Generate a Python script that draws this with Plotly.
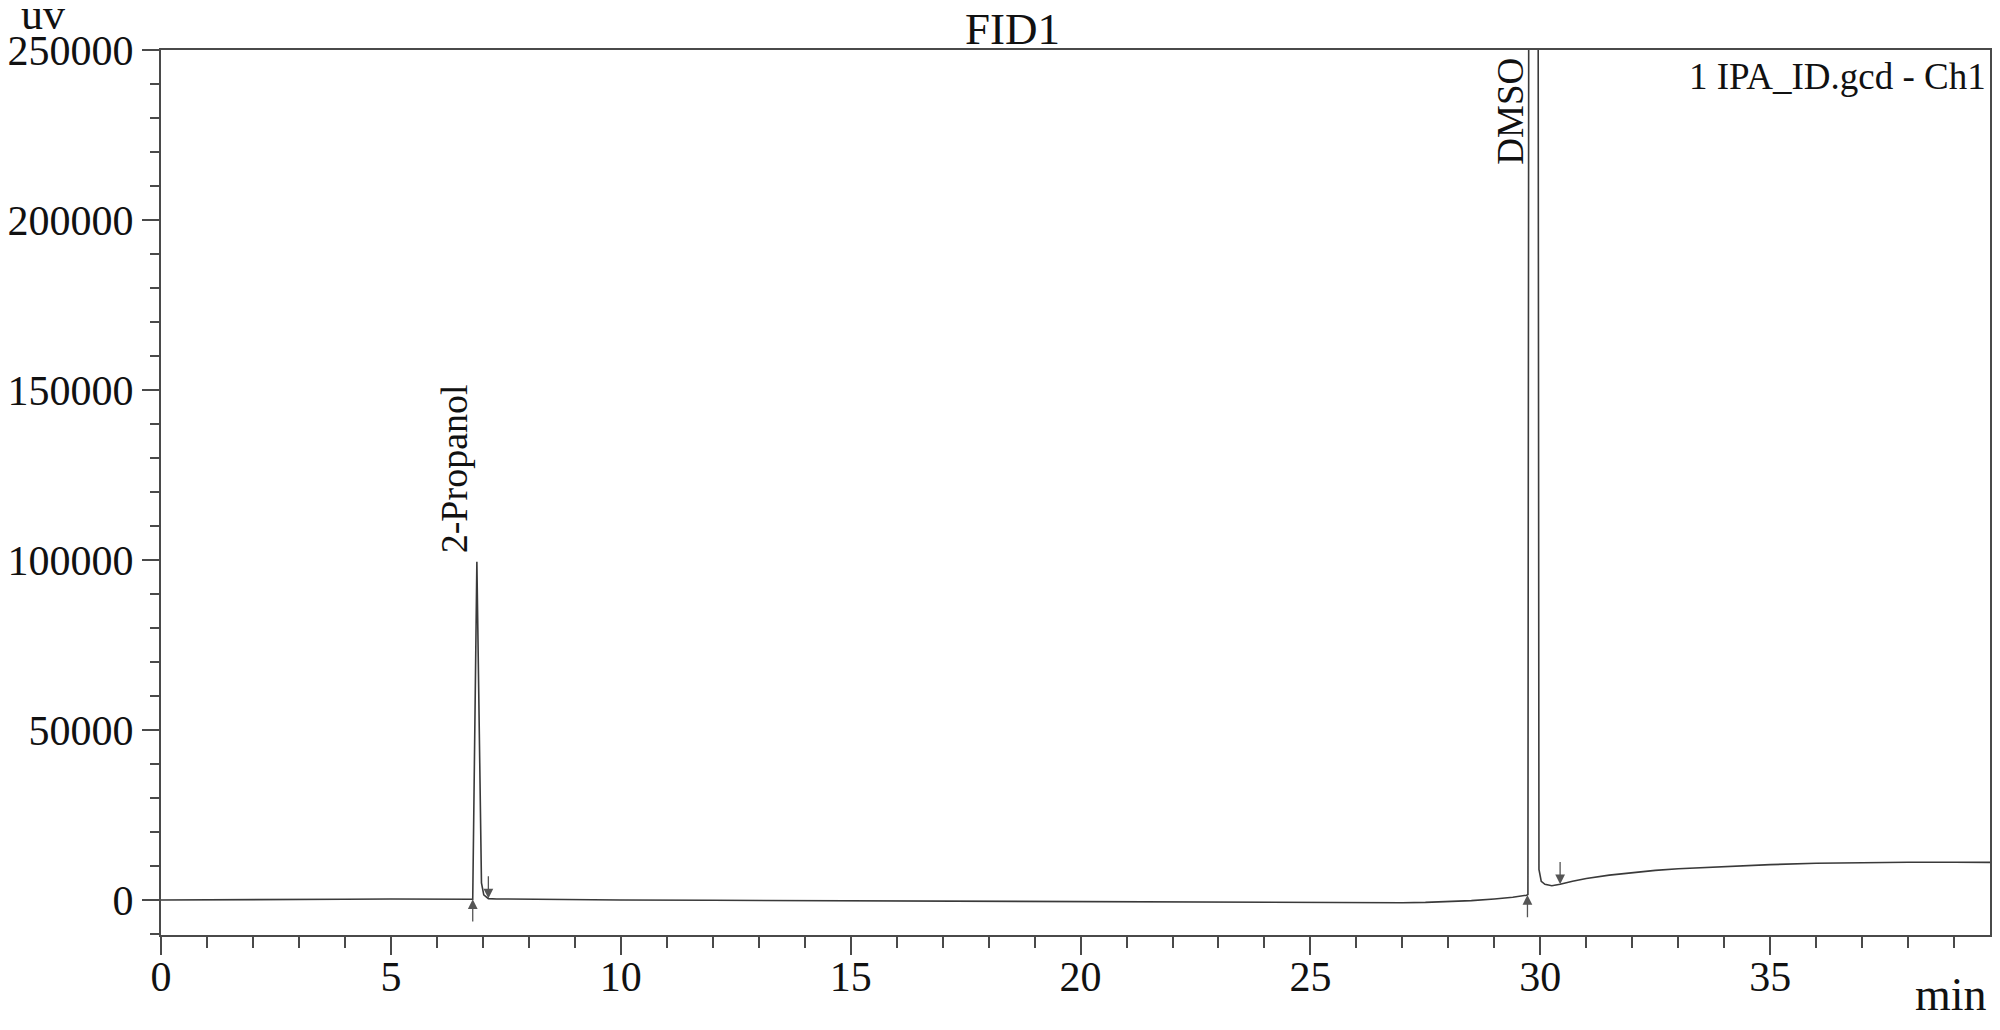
import plotly.graph_objects as go

# FID1 chromatogram, 1 IPA_ID.gcd - Ch1
time_min = [0, 1, 2, 3, 4, 5, 6, 6.5, 6.75, 6.78, 6.87, 6.97, 7.02, 7.12, 7.3,
            8, 9, 10, 12, 14, 15, 17, 18, 20, 22, 24, 25, 26, 27, 27.5, 28,
            28.5, 29, 29.4, 29.7, 29.73, 29.75, 29.85, 29.95, 29.97, 30.02,
            30.1, 30.25, 30.43, 30.7, 31, 31.5, 32, 32.5, 33, 34, 35, 36, 37,
            38, 39, 39.85]
signal_uv = [0, 0, 100, 0, 200, 300, 200, 100, 100, 200, 99500, 5000, 1500, 400,
             300, 200, 100, 0, -100, -200, -300, -400, -500, -600, -700, -800,
             -900, -900, -800, -700, -500, -200, 300, 800, 1400, 1600, 300000,
             1800000, 300000, 9000, 5500, 4600, 4200, 4600, 5500, 6300, 7300,
             8100, 8700, 9200, 9900, 10400, 10800, 11000, 11100, 11100, 11050]

peak_names = ["2-Propanol", "DMSO"]
peak_start = [6.78, 29.72]
peak_start_uv = [200, 1500]
peak_end = [7.12, 30.43]
peak_end_uv = [400, 4600]

line_grey = "#4a4a4a"
serif = "Liberation Serif, Times New Roman, serif"

fig = go.Figure()
fig.add_trace(go.Scatter(
    x=time_min, y=signal_uv, mode="lines",
    line=dict(color="#3a3a3a", width=1.6),
    showlegend=False, hoverinfo="skip",
))

annotations = []
# peak start / end markers
for xs, ys in zip(peak_start, peak_start_uv):
    annotations.append(dict(x=xs, y=ys, ax=xs, ay=ys - 7000, xref="x", yref="y",
                            axref="x", ayref="y", text="", showarrow=True,
                            arrowhead=2, arrowsize=1.5, arrowwidth=1.3,
                            arrowcolor="#555555"))
for xe, ye in zip(peak_end, peak_end_uv):
    annotations.append(dict(x=xe, y=ye, ax=xe, ay=ye + 7000, xref="x", yref="y",
                            axref="x", ayref="y", text="", showarrow=True,
                            arrowhead=2, arrowsize=1.5, arrowwidth=1.3,
                            arrowcolor="#555555"))

# peak labels
annotations.append(dict(x=6.36, y=126800, xref="x", yref="y", text=peak_names[0],
                        textangle=-90, showarrow=False,
                        font=dict(family=serif, size=38, color="#111111")))
annotations.append(dict(x=29.35, y=232000, xref="x", yref="y", text=peak_names[1],
                        textangle=-90, showarrow=False,
                        font=dict(family=serif, size=37, color="#111111")))

# titles and axis units
annotations.append(dict(x=0.4657, y=1.0237, xref="paper", yref="paper", text="FID1",
                        showarrow=False, xanchor="center", yanchor="middle",
                        font=dict(family=serif, size=45, color="#111111")))
annotations.append(dict(x=-0.0647, y=1.0102, xref="paper", yref="paper", text="uv",
                        showarrow=False, xanchor="center", yanchor="bottom",
                        font=dict(family=serif, size=44, color="#111111")))
annotations.append(dict(x=0.9995, y=-0.0983, xref="paper", yref="paper", text="min",
                        showarrow=False, xanchor="right", yanchor="bottom",
                        font=dict(family=serif, size=46, color="#111111")))
annotations.append(dict(x=0.9989, y=0.9706, xref="paper", yref="paper",
                        text="1 IPA_ID.gcd - Ch1", showarrow=False,
                        xanchor="right", yanchor="middle",
                        font=dict(family=serif, size=37, color="#111111")))

# page body keeps its default 8px margin, so the figure is 16px smaller
fig.update_layout(
    width=1984, height=1014,
    margin=dict(l=146, r=0, t=42, b=87),
    paper_bgcolor="white", plot_bgcolor="white",
    font=dict(family=serif, color="#111111"),
    annotations=annotations,
    xaxis=dict(
        range=[0, 39.78], showgrid=False, zeroline=False,
        showline=True, linecolor=line_grey, linewidth=2, mirror=True,
        ticks="outside", ticklen=18, tickwidth=2, tickcolor=line_grey,
        tick0=0, dtick=5, ticklabelstandoff=-14,
        tickfont=dict(family=serif, size=42, color="#111111"),
        minor=dict(ticks="outside", ticklen=11, tickwidth=2, tickcolor=line_grey,
                   dtick=1, showgrid=False),
    ),
    yaxis=dict(
        range=[-10300, 250000], showgrid=False, zeroline=False,
        showline=True, linecolor=line_grey, linewidth=2, mirror=True,
        ticks="outside", ticklen=17, tickwidth=2, tickcolor=line_grey,
        tick0=0, dtick=50000, tickformat="d",
        tickfont=dict(family=serif, size=42, color="#111111"),
        minor=dict(ticks="outside", ticklen=9, tickwidth=2, tickcolor=line_grey,
                   dtick=10000, showgrid=False),
    ),
)

fig.write_html("out.html")
